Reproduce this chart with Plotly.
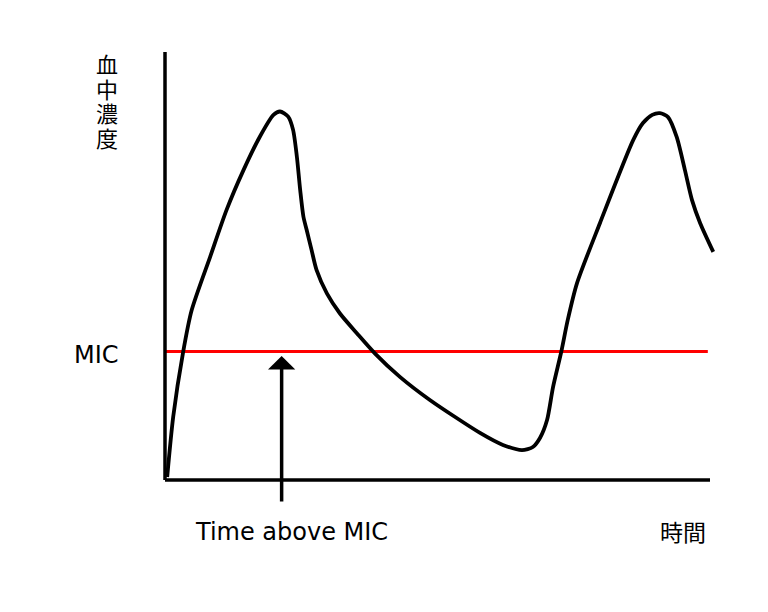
import plotly.graph_objects as go

# ---- data (time in arbitrary units, concentration in arbitrary units) ----
time_pts = [0.04, 0.15, 0.33, 0.49, 0.83, 1.13, 1.44, 1.74, 1.99, 2.11, 2.26, 2.35,
            2.42, 2.48, 2.54, 2.60, 2.69, 2.78, 2.97, 3.21, 3.52, 3.85, 4.31, 4.86,
            5.78, 6.20, 6.55, 6.75, 6.88, 7.01, 7.12, 7.27, 7.39, 7.56, 7.98, 8.59,
            8.77, 8.94, 9.08, 9.23, 9.39, 9.54, 9.67, 9.82, 10.06]
conc_pts = [0.07, 1.47, 2.97, 3.97, 5.22, 6.31, 7.24, 8.02, 8.53, 8.61, 8.49, 8.18,
            7.55, 6.78, 6.15, 5.84, 5.37, 4.91, 4.36, 3.89, 3.43, 2.96, 2.41, 1.87,
            1.10, 0.82, 0.70, 0.77, 0.98, 1.40, 2.17, 2.99, 3.74, 4.60, 6.00, 7.94,
            8.34, 8.53, 8.57, 8.48, 8.01, 7.24, 6.54, 6.00, 5.33]
mic_level = 3.0
mic_span = [0.0, 9.96]
axis_time_max = 10.0
axis_conc_max = 10.0
y_label_chars = ["血", "中", "濃", "度"]
x_label = "時間"
mic_label = "MIC"
arrow_label = "Time above MIC"
arrow_time = 2.14
arrow_tip = 2.90
arrow_tail = -0.54

fig = go.Figure()

fig.add_trace(go.Scatter(
    x=mic_span, y=[mic_level, mic_level], mode="lines",
    line=dict(color="#ff0000", width=3), hoverinfo="skip", showlegend=False))

fig.add_trace(go.Scatter(
    x=time_pts, y=conc_pts, mode="lines",
    line=dict(color="black", width=3.8, shape="spline", smoothing=0.7),
    hoverinfo="skip", showlegend=False))

# axes drawn as lines in data coordinates
fig.add_shape(type="line", x0=0, y0=0, x1=axis_time_max, y1=0,
              xref="x", yref="y", line=dict(color="black", width=3.5))
fig.add_shape(type="line", x0=0, y0=0, x1=0, y1=axis_conc_max,
              xref="x", yref="y", line=dict(color="black", width=3.5))

# arrow
fig.add_annotation(x=arrow_time, y=arrow_tip, ax=arrow_time, ay=arrow_tail,
                   xref="x", yref="y", axref="x", ayref="y", text="",
                   showarrow=True, arrowhead=1, arrowwidth=3.5, arrowsize=1.3,
                   arrowcolor="black")

latin = dict(family="DejaVu Sans", size=24, color="black")
cjk = dict(family="Noto Sans CJK JP", size=22, color="black")

fig.add_annotation(x=-1.25, y=2.92, text=mic_label, showarrow=False,
                   xref="x", yref="y", font=latin)
fig.add_annotation(x=2.33, y=-1.22, text=arrow_label, showarrow=False,
                   xref="x", yref="y", font=latin)
fig.add_annotation(x=9.50, y=-1.19, text=x_label, showarrow=False,
                   xref="x", yref="y", font=dict(family="Noto Sans CJK JP", size=23, color="black"))
for ch, yy in zip(y_label_chars, [9.74, 9.16, 8.59, 8.01]):
    fig.add_annotation(x=-1.07, y=yy, text=ch, showarrow=False,
                       xref="x", yref="y", font=cjk, borderpad=0)

fig.update_xaxes(range=[-165 / 54.5, 603 / 54.5], visible=False)
fig.update_yaxes(range=[-132 / 42.8, 480 / 42.8], visible=False)
fig.update_layout(width=768, height=612, margin=dict(l=0, r=0, t=0, b=0),
                  paper_bgcolor="white", plot_bgcolor="white")

fig.write_html("out.html")
